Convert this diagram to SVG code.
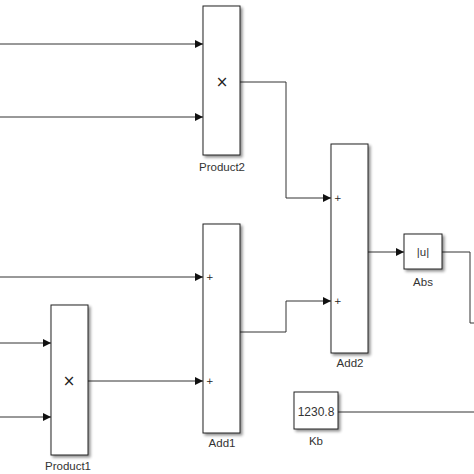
<svg xmlns="http://www.w3.org/2000/svg" width="474" height="474" viewBox="0 0 474 474">
<defs>
<marker id="ah" viewBox="0 0 10 10" refX="10" refY="5" markerWidth="10" markerHeight="8" markerUnits="userSpaceOnUse" orient="auto"><path d="M0,0 L10,5 L0,10 z" fill="#111"/></marker>
<filter id="sh" x="-20%" y="-20%" width="150%" height="150%"><feGaussianBlur in="SourceAlpha" stdDeviation="1.5"/><feOffset dx="2" dy="2"/><feComponentTransfer><feFuncA type="linear" slope="0.45"/></feComponentTransfer><feMerge><feMergeNode/><feMergeNode in="SourceGraphic"/></feMerge></filter>
</defs>
<style>
.blk{fill:#fff;stroke:#222;stroke-width:1;filter:url(#sh)}
.ln{fill:none;stroke:#333;stroke-width:1}
.lbl{font-family:"Liberation Sans",Arial,sans-serif;font-size:11.5px;fill:#333;text-anchor:middle}
.sym{font-family:"DejaVu Sans",sans-serif;font-size:15px;fill:#222;text-anchor:middle}
.pl{font-family:"DejaVu Sans",sans-serif;font-size:9px;fill:#222}
</style>
<rect width="474" height="474" fill="#fff"/>
<g id="connectors">
<path class="ln" d="M0,44 H203" marker-end="url(#ah)"/>
<path class="ln" d="M0,117 H203" marker-end="url(#ah)"/>
<path class="ln" d="M240,82 H286 V198 H331" marker-end="url(#ah)"/>
<path class="ln" d="M0,277 H203" marker-end="url(#ah)"/>
<path class="ln" d="M0,343 H51" marker-end="url(#ah)"/>
<path class="ln" d="M0,417 H51" marker-end="url(#ah)"/>
<path class="ln" d="M88,381 H203" marker-end="url(#ah)"/>
<path class="ln" d="M240,332 H286 V301 H331" marker-end="url(#ah)"/>
<path class="ln" d="M368,252 H404" marker-end="url(#ah)"/>
<path class="ln" d="M442,252 H470 V323 H474"/>
<path class="ln" d="M338,412 H474"/>
</g>
<g id="Product2">
<rect class="blk" x="203" y="6" width="37" height="149"/>
<text class="sym" x="222" y="87">×</text>
<text class="lbl" x="222" y="171">Product2</text>
</g>
<g id="Add2">
<rect class="blk" x="331" y="144" width="37" height="209"/>
<text class="pl" x="334" y="201">+</text>
<text class="pl" x="334" y="304">+</text>
<text class="lbl" x="350" y="367">Add2</text>
</g>
<g id="Abs">
<rect class="blk" x="404" y="234" width="38" height="35"/>
<text class="lbl" x="423" y="256">|u|</text>
<text class="lbl" x="423" y="286">Abs</text>
</g>
<g id="Add1">
<rect class="blk" x="203" y="224" width="37" height="209"/>
<text class="pl" x="206" y="280">+</text>
<text class="pl" x="206" y="384">+</text>
<text class="lbl" x="222" y="447">Add1</text>
</g>
<g id="Product1">
<rect class="blk" x="51" y="305" width="37" height="150"/>
<text class="sym" x="69" y="386">×</text>
<text class="lbl" x="68" y="470">Product1</text>
</g>
<g id="Kb">
<rect class="blk" x="294" y="392" width="44" height="37"/>
<text class="lbl" x="316" y="416" style="font-size:12px">1230.8</text>
<text class="lbl" x="316" y="445">Kb</text>
</g>
</svg>
